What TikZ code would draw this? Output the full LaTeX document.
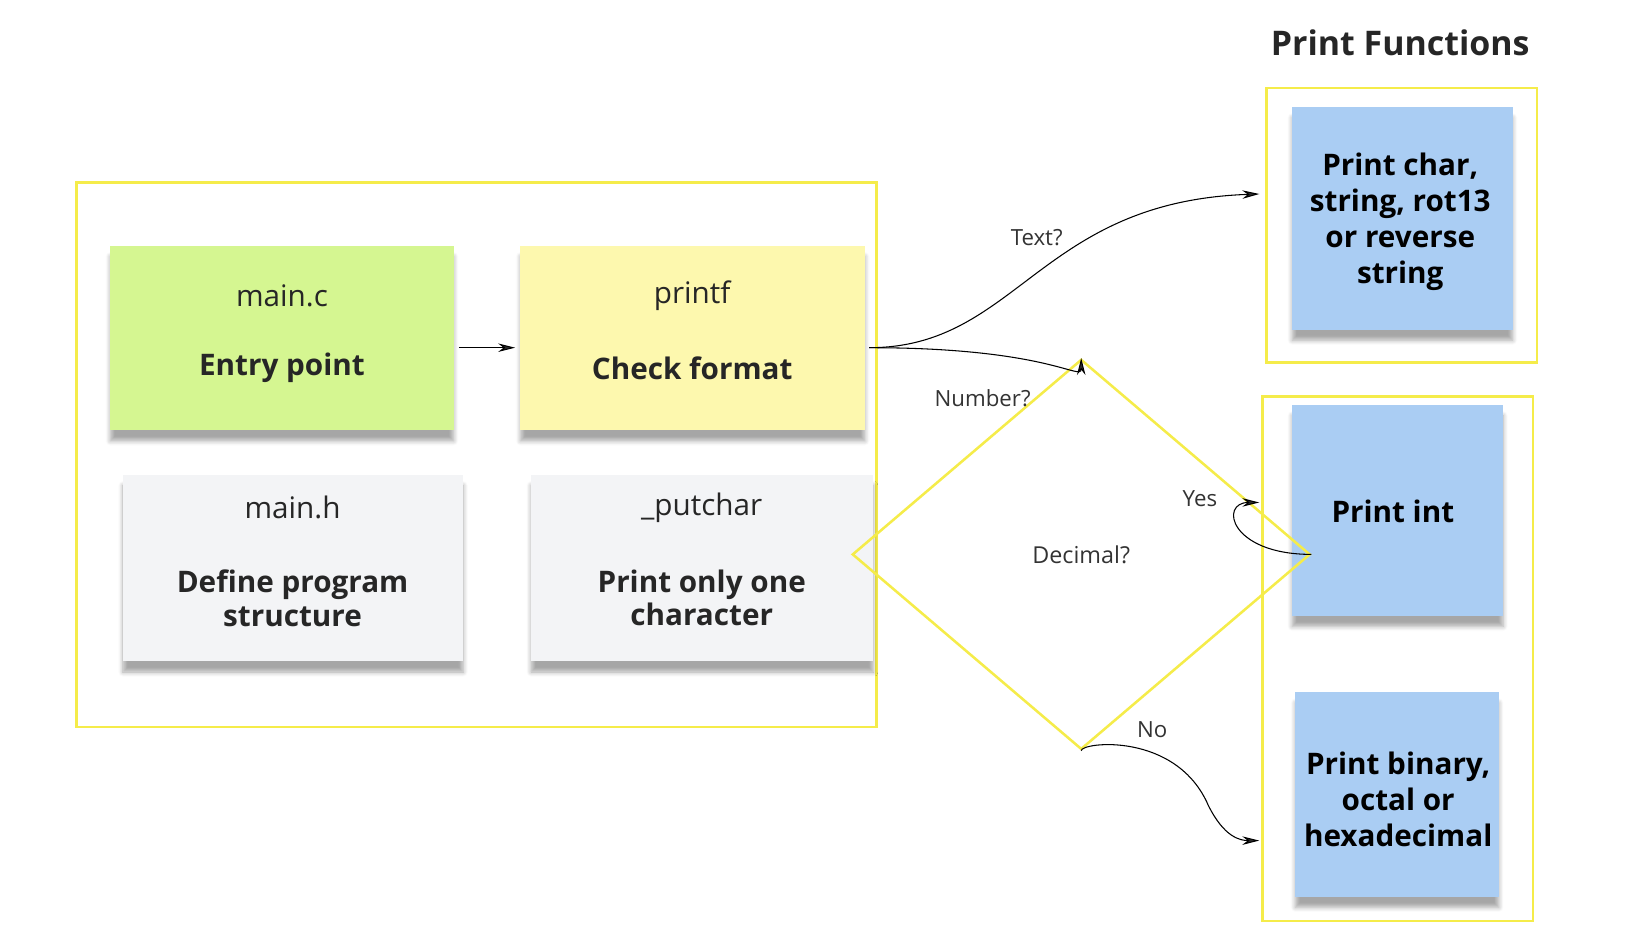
\documentclass[tikz,border=0pt]{standalone}
\usepackage{fontspec}
\setmainfont{Open Sans}
\usetikzlibrary{shapes.geometric,shadows.blur,arrows.meta}
\definecolor{yb}{HTML}{F5EC4A}
\definecolor{gnote}{HTML}{D5F691}
\definecolor{ynote}{HTML}{FDF8AE}
\definecolor{wnote}{HTML}{F3F4F6}
\definecolor{bnote}{HTML}{AACDF3}
\begin{document}
\begin{tikzpicture}[x=0.5pt,y=-0.5pt,
  frame/.style={draw=yb,line width=1.2pt},
  note/.style={blur shadow={shadow xshift=0pt,shadow yshift=-5pt,shadow blur steps=6,shadow opacity=35}},
  t/.style={font=\fontsize{14}{16}\selectfont,text=black!85},
  tb/.style={font=\fontsize{14}{16}\selectfont\bfseries,text=black!85,align=center},
  bt/.style={font=\fontsize{14}{17}\selectfont\bfseries,align=center},
  lab/.style={font=\fontsize{10.5}{12}\selectfont,text=black!80},
  arr/.style={-{Stealth[length=8pt,width=4pt]},line width=0.5pt}]
\useasboundingbox (0,0) rectangle (1550,896);
\draw[frame] (72,172) rectangle (827,686);
\draw[frame] (1195,83) rectangle (1450,342);
\draw[frame] (1191,374) rectangle (1446,869);
\node[bt,font=\fontsize{16}{18}\selectfont\bfseries,text=black!85] (title) at (1321,40) {Print Functions};
% notes
\fill[gnote,note] (104,232) rectangle (428,406);
\node[t] (mc) at (266,279) {main.c};
\node[tb] (mce) at (266,347) {Entry point};
\fill[ynote,note] (491,232) rectangle (816,406);
\node[t] (pf) at (653,279) {printf};
\node[tb] (pfe) at (653,347) {Check format};
\fill[wnote,note] (116,448) rectangle (437,624);
\node[t] (mh) at (276,479) {main.h};
\node[tb] (mhe) at (276,564) {Define program\\structure};
\fill[wnote,note] (501,448) rectangle (824,624);
\node[t] (pc) at (662,479) {\_putchar};
\node[tb] (pce) at (662,564) {Print only one\\character};
\fill[bnote,note] (1219,101) rectangle (1427,311);
\node[bt] (pchar) at (1321,209) {Print char,\\string, rot13\\or reverse\\string};
\fill[bnote,note] (1219,382) rectangle (1418,581);
\node[bt] (pint) at (1314,482) {Print int};
\fill[bnote,note] (1222,653) rectangle (1414,846);
\node[bt] (pbin) at (1319,754) {Print binary,\\octal or\\hexadecimal};
% diamond
\node[diamond,draw=yb,line width=1.2pt,minimum width=216,minimum height=184,inner sep=0,lab,font=\fontsize{11}{13}\selectfont] (dec) at (1020,523) {Decimal?};
% connector anchors
\coordinate (a1) at (433,328); \coordinate (a2) at (486,328);
\coordinate (o) at (820,328);
\coordinate (tin) at (1188,183);
\coordinate (yin) at (1188,474);
\coordinate (nin) at (1188,793);
\draw[arr] (a1) -- (a2);
\draw[arr] (o) .. controls (960,328) and (980,190) .. (tin);
\draw[arr] (o) .. controls (990,328) and (1020,360) .. (dec.north);
\draw[arr] (dec.east) .. controls (1160,523) and (1150,474) .. (yin);
\draw[arr] (dec.south) .. controls (1020,700) and (1110,690) .. (1140,760) .. controls (1155,790) and (1170,793) .. (nin);
\node[lab] (lt) at (978,224) {Text?};
\node[lab] (ln) at (927,376) {Number?};
\node[lab] (ly) at (1132,470) {Yes};
\node[lab] (lno) at (1087,688) {No};
\end{tikzpicture}
\end{document}
